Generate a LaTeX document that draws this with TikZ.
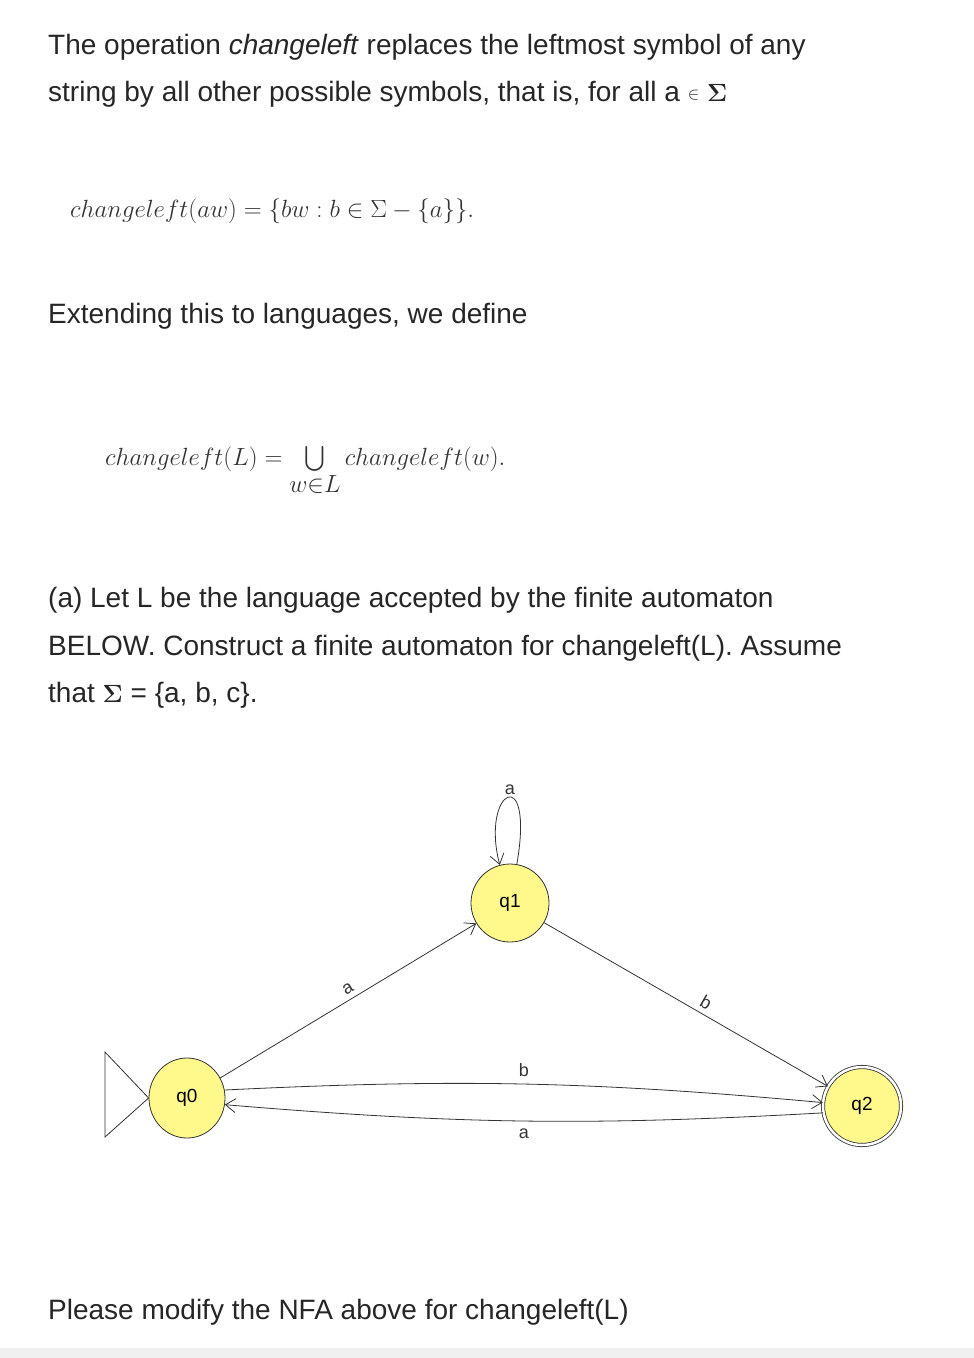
\documentclass[tikz,border=0pt]{standalone}
\usepackage{fontspec}
\setmainfont{Liberation Sans}
\usepackage{amsmath}
\usetikzlibrary{arrows.meta,shapes.geometric}
\begin{document}
\begin{tikzpicture}[x=1pt,y=-1pt,
  txt/.style={anchor=base west,inner sep=0,font=\fontsize{28}{34}\selectfont,text=black!85},
  mth/.style={anchor=base west,inner sep=0,font=\fontsize{34}{40}\selectfont,text=black!80},
  st/.style={circle,draw=black!80,fill=yellow!45,minimum size=78,inner sep=0,font=\fontsize{19}{22}\selectfont,line width=0.8},
  lbl/.style={font=\fontsize{18}{20}\selectfont,inner sep=1,text=black!80},
  ed/.style={draw=black!80,line width=0.8,-{Straight Barb[length=10,width=14]}}]
\useasboundingbox (0,0) rectangle (974,1358);
\fill[black!6] (0,1348) rectangle (974,1358);
\node[txt] (t1) at (48,54) {The operation \textit{changeleft} replaces the leftmost symbol of any};
\node[txt] (t2) at (48,101) {string by all other possible symbols, that is, for all a \raisebox{2pt}{\fontsize{18}{20}\selectfont$\in$} $\boldsymbol\Sigma$};
\node[mth] (m1) at (70,217) {$changeleft(aw) = \{bw : b \in \Sigma - \{a\}\}.$};
\node[txt] (t3) at (48,323) {Extending this to languages, we define};
\node[mth] (m2) at (105,465) {$changeleft(L) = \bigcup\limits_{w\in L} changeleft(w).$};
\node[txt] (t4) at (48,607) {(a) Let L be the language accepted by the finite automaton};
\node[txt] (t5) at (48,655) {BELOW. Construct a finite automaton for changeleft(L). Assume};
\node[txt] (t6) at (48,702) {that $\boldsymbol\Sigma$ = \{a, b, c\}.};
\node[txt] (t7) at (48,1319) {Please modify the NFA above for changeleft(L)};

\node[st,ellipse,minimum width=76,minimum height=80] (q0) at (187,1098) {q0};
\node[st] (q1) at (510,903) {q1};
\node[st,double,double distance=2.5] (q2) at (862,1106) {q2};
\draw[black!80,line width=0.8] (105,1052) -- (q0.west) -- (105,1137) -- cycle;
\draw[ed] (q0) -- node[lbl,pos=0.52,above=4,sloped]{a} (q1);
\draw[ed] (q1) -- node[lbl,pos=0.55,above=4,sloped]{b} (q2);
\draw[ed] (q1.80) .. controls (535,760) and (480,790) .. (q1.105);
\node[lbl] (la) at (510,790) {a};
\draw[ed] (q0.12) to[bend left=4] node[lbl,above=6]{b} (q2.175);
\draw[ed] (q2.190) to[bend left=4] node[lbl,below=6]{a} (q0.-10);
\end{tikzpicture}
\end{document}
